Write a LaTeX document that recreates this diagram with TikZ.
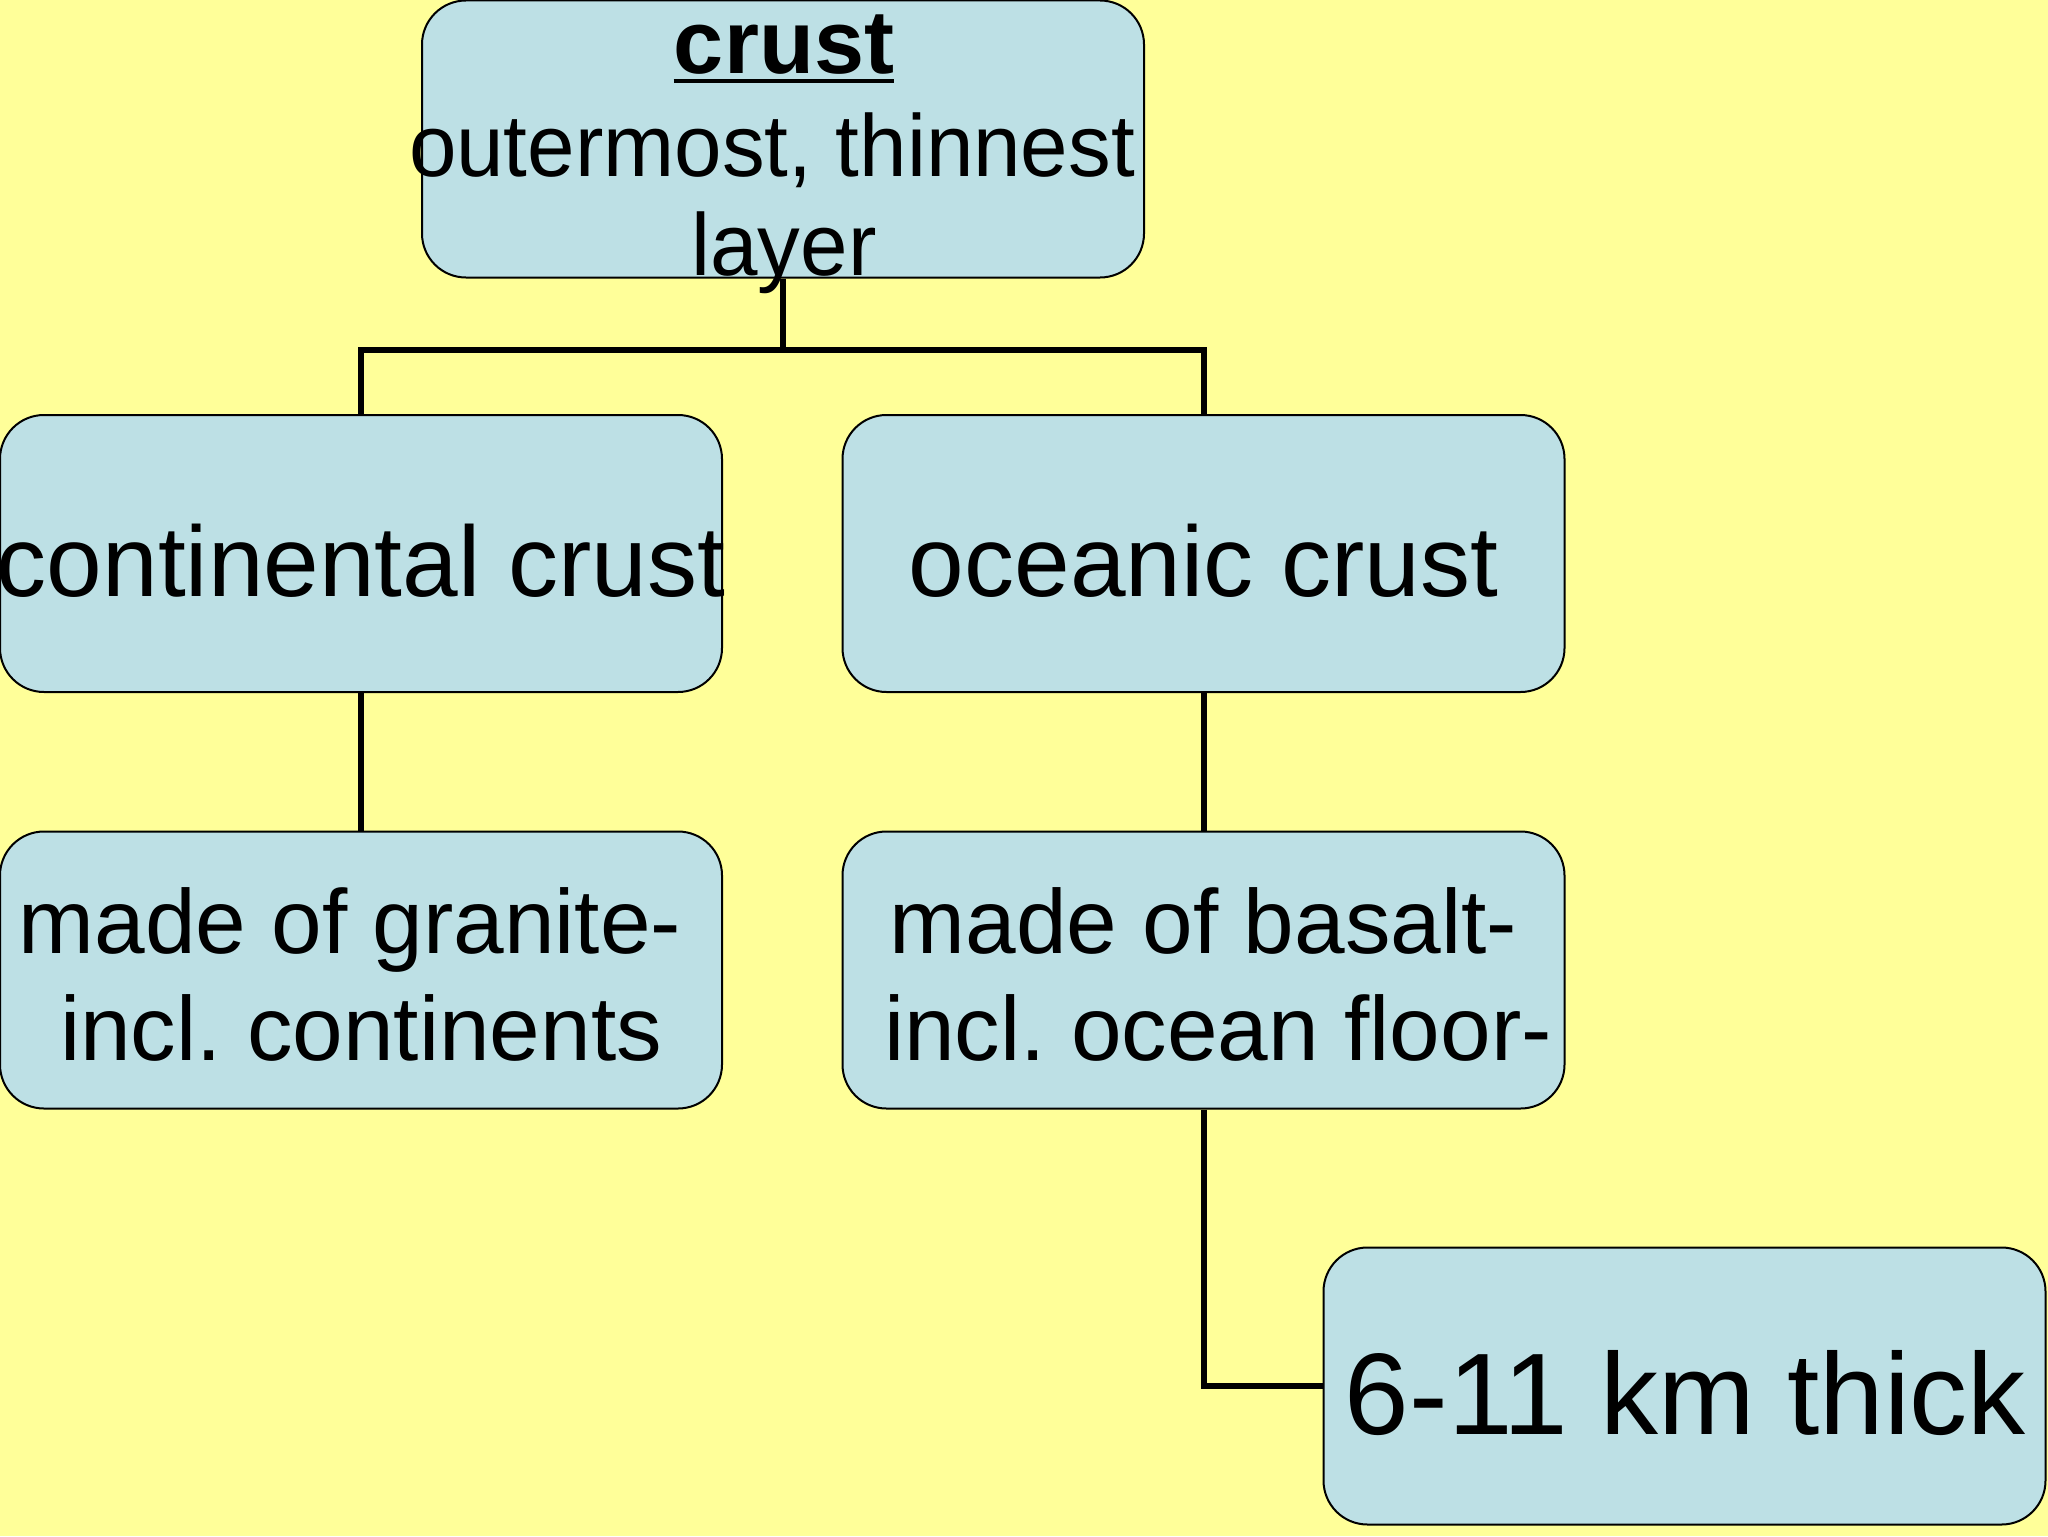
\documentclass[tikz,border=0pt]{standalone}
\usepackage{fontspec}
\setmainfont{Liberation Sans}
\newfontfamily\condfont[FakeStretch=0.97]{Liberation Sans}
\usetikzlibrary{backgrounds}
\definecolor{bgyellow}{HTML}{FFFF99}
\definecolor{boxfill}{HTML}{BDE0E5}
\frenchspacing
\begin{document}
\begin{tikzpicture}[x=0.5pt,y=-0.5pt,
  box/.style={draw=black, line width=1pt, fill=boxfill, rounded corners=22pt,
              inner sep=0pt, minimum width=361pt, minimum height=138.5pt},
  conn/.style={draw=black, line width=3pt},
  txt/.style={inner sep=0pt, anchor=base},
  ftop/.style={font=\condfont\fontsize{44}{50}\selectfont},
  fhead/.style={font=\bfseries\fontsize{45}{50}\selectfont},
  fbig/.style={font=\fontsize{50}{58}\selectfont},
  fmid/.style={font=\fontsize{45.5}{53}\selectfont},
  fhuge/.style={font=\fontsize{58}{66}\selectfont}]
\useasboundingbox (0,0) rectangle (2048,1536);

% boxes
\node[box] (crust) at (783,139) {};
\node[box] (cont) at (361,553.5) {};
\node[box] (ocean) at (1203.5,553.5) {};
\node[box] (granite) at (361,970) {};
\node[box] (basalt) at (1203.5,970) {};
\node[box] (thick) at (1684.5,1386) {};

% texts
\node[txt,fhead] (t0) at (784,74) {crust};
\draw[line width=2pt] ([yshift=-3.6pt]t0.base west) -- ([yshift=-3.6pt]t0.base east);
\node[txt,ftop] (t1) at (772,176) {outermost, thinnest};
\node[txt,ftop] (t2) at (784,275) {layer};
\node[txt,fbig] (t3) at (361,596) {continental crust};
\node[txt,fbig] (t4) at (1203.5,596) {oceanic crust};
\node[txt,fmid] (t5) at (350,953) {made of granite-};
\node[txt,fmid] (t6) at (361,1060) {incl. continents};
\node[txt,fmid] (t7) at (1203.5,953) {made of basalt-};
\node[txt,fmid] (t8) at (1218,1060) {incl. ocean floor-};
\node[txt,fhuge] (t9) at (1685.5,1434) {6-11 km thick};

% connectors
\coordinate (bus) at (783,350);
\begin{scope}[on background layer]
\fill[bgyellow] (0,0) rectangle (2048,1536);
\draw[conn] (crust.south) -- (bus);
\draw[conn] (cont.north) |- (bus) -| (ocean.north);
\draw[conn] (ocean.south) -- (basalt.north);
\draw[conn] (cont.south) -- (granite.north);
\draw[conn] (basalt.south) |- (thick.west);
\end{scope}
\end{tikzpicture}
\end{document}
